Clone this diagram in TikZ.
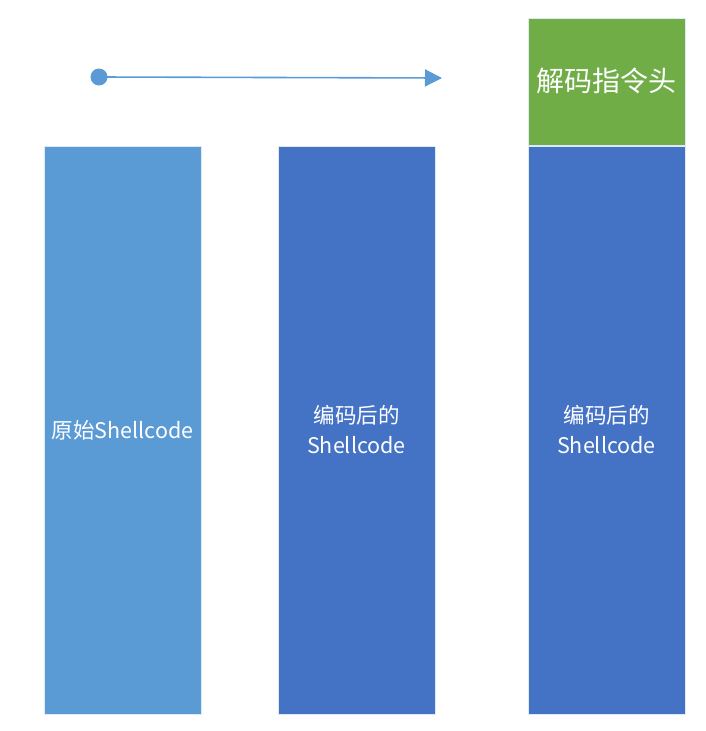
\documentclass[tikz,border=0pt]{standalone}
\usepackage{fontspec}
\setmainfont{Noto Sans CJK SC}
\usetikzlibrary{arrows.meta}
\definecolor{lblue}{HTML}{5B9BD5}
\definecolor{dblue}{HTML}{4472C4}
\definecolor{lgreen}{HTML}{70AD47}
\begin{document}
\begin{tikzpicture}[x=1pt,y=-1pt,
  bar/.style={draw=white!80!lblue,line width=0.8pt,minimum width=157pt,inner sep=0pt,text=white,align=center,font=\fontsize{21.5}{30}\selectfont},
  conn/.style={lblue,line width=1.6pt,-{Triangle[length=17pt,width=17pt]}}]
\useasboundingbox (0,0) rectangle (706,731);
\node[bar,fill=lblue,minimum height=568pt] (orig) at (122.5,430) {原始Shellcode};
\node[bar,fill=dblue,minimum height=568pt] (enc) at (356.5,430) {编码后的\\Shellcode};
\node[bar,fill=dblue,minimum height=568pt] (enc2) at (606.5,430) {编码后的\\Shellcode};
\node[bar,fill=lgreen,minimum height=127pt,font=\fontsize{28}{30}\selectfont] (head) at (606.5,81.5) {\raisebox{3.5pt}{解码指令头}};
\coordinate (s) at (99,77);
\coordinate (e) at (442,78);
\fill[lblue] (s) circle (8.5pt);
\draw[conn] (s) -- (e);
\end{tikzpicture}
\end{document}
